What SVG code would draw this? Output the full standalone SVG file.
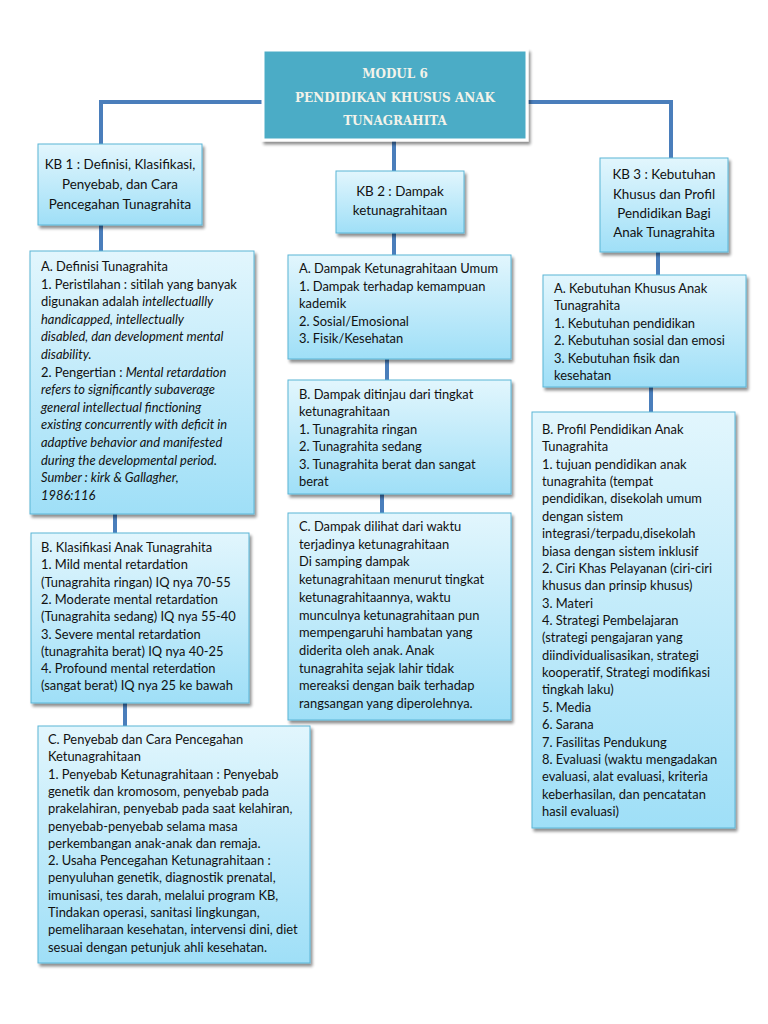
<svg xmlns="http://www.w3.org/2000/svg" width="768" height="1024" viewBox="0 0 768 1024">
<defs>
<linearGradient id="g" x1="0" y1="0" x2="0" y2="1">
<stop offset="0" stop-color="#e2f6fd"/>
<stop offset="1" stop-color="#9fdff7"/>
</linearGradient>
<filter id="sh" x="-10%" y="-10%" width="125%" height="125%">
<feGaussianBlur in="SourceAlpha" stdDeviation="1.5"/>
<feOffset dx="1.5" dy="2.5" result="o"/>
<feComponentTransfer><feFuncA type="linear" slope="0.45"/></feComponentTransfer>
<feMerge><feMergeNode/><feMergeNode in="SourceGraphic"/></feMerge>
</filter>
</defs>
<style>
.box{fill:url(#g);stroke:#5bb5d6;stroke-width:1;filter:url(#sh)}
.title{fill:#4bacc6;stroke:#ffffff;stroke-width:3;filter:url(#sh)}
.tt{font-family:"DejaVu Serif",serif;font-weight:bold;font-size:12px;fill:#f3f3ea;text-anchor:middle}
.t{font-family:Lato,"Liberation Sans",sans-serif;font-size:12.9px;fill:#111111}
.k{font-size:13.4px}
.c{text-anchor:middle}
.i{font-style:italic}
.ln{fill:none;stroke:#4a7ebb;stroke-width:4}
</style>
<rect width="768" height="1024" fill="#ffffff"/>
<g id="connectors">
<polyline class="ln" points="263,102 101,102 101,145"/>
<polyline class="ln" points="527,102 671,102 671,158"/>
<line class="ln" x1="394" y1="140" x2="394" y2="171"/>
<line class="ln" x1="101" y1="225" x2="101" y2="251"/>
<line class="ln" x1="115" y1="514" x2="115" y2="533"/>
<line class="ln" x1="125" y1="703" x2="125" y2="726"/>
<line class="ln" x1="394" y1="233" x2="394" y2="255"/>
<line class="ln" x1="387" y1="359" x2="387" y2="380"/>
<line class="ln" x1="382" y1="494" x2="382" y2="513"/>
<line class="ln" x1="658" y1="252" x2="658" y2="275"/>
<line class="ln" x1="651" y1="387" x2="651" y2="412"/>
</g>
<g id="title">
<rect class="title" x="263" y="50" width="264" height="90"/>
<text class="tt"><tspan x="395" y="78">MODUL 6</tspan><tspan x="395" y="102">PENDIDIKAN KHUSUS ANAK</tspan><tspan x="395" y="125">TUNAGRAHITA</tspan></text>
</g>
<g id="kb1">
<rect class="box" x="38" y="144" width="164" height="81"/>
<text class="t k c"><tspan x="120" y="169">KB 1 : Definisi, Klasifikasi,</tspan><tspan x="120" y="189">Penyebab, dan Cara</tspan><tspan x="120" y="209">Pencegahan Tunagrahita</tspan></text>
</g>
<g id="kb2">
<rect class="box" x="336" y="171" width="128" height="62"/>
<text class="t k c"><tspan x="400" y="196">KB 2 : Dampak</tspan><tspan x="400" y="215">ketunagrahitaan</tspan></text>
</g>
<g id="kb3">
<rect class="box" x="600" y="158" width="128" height="94"/>
<text class="t k c"><tspan x="664" y="179">KB 3 : Kebutuhan</tspan><tspan x="664" y="199">Khusus dan Profil</tspan><tspan x="664" y="218">Pendidikan Bagi</tspan><tspan x="664" y="237">Anak Tunagrahita</tspan></text>
</g>
<g id="kb1a">
<rect class="box" x="30" y="251" width="224" height="263"/>
<text class="t">
<tspan x="41" y="271">A. Definisi Tunagrahita</tspan>
<tspan x="41" y="288.6">1. Peristilahan : sitilah yang banyak</tspan>
<tspan x="41" y="306.2">digunakan adalah <tspan class="i">intellectuallly</tspan></tspan>
<tspan x="41" y="323.8" class="i">handicapped, intellectually</tspan>
<tspan x="41" y="341.4" class="i">disabled, dan development mental</tspan>
<tspan x="41" y="359" class="i">disability.</tspan>
<tspan x="41" y="376.6">2. Pengertian : <tspan class="i"> Mental retardation</tspan></tspan>
<tspan x="41" y="394.2" class="i">refers to significantly subaverage</tspan>
<tspan x="41" y="411.8" class="i">general intellectual finctioning</tspan>
<tspan x="41" y="429.4" class="i">existing concurrently with deficit in</tspan>
<tspan x="41" y="447" class="i">adaptive behavior and manifested</tspan>
<tspan x="41" y="464.6" class="i">during the developmental period.</tspan>
<tspan x="41" y="482.2" class="i">Sumber : kirk &amp; Gallagher,</tspan>
<tspan x="41" y="499.8" class="i">1986:116</tspan>
</text>
</g>
<g id="kb1b">
<rect class="box" x="31" y="533" width="218" height="170"/>
<text class="t">
<tspan x="41" y="552">B. Klasifikasi Anak Tunagrahita</tspan>
<tspan x="41" y="569.3">1. Mild mental retardation</tspan>
<tspan x="41" y="586.6">(Tunagrahita ringan) IQ nya 70-55</tspan>
<tspan x="41" y="603.9">2. Moderate mental retardation</tspan>
<tspan x="41" y="621.2">(Tunagrahita sedang) IQ nya 55-40</tspan>
<tspan x="41" y="638.5">3. Severe mental retardation</tspan>
<tspan x="41" y="655.8">(tunagrahita berat) IQ nya 40-25</tspan>
<tspan x="41" y="673.1">4. Profound mental reterdation</tspan>
<tspan x="41" y="690.4">(sangat berat) IQ nya 25 ke bawah</tspan>
</text>
</g>
<g id="kb1c">
<rect class="box" x="38" y="726" width="272" height="237"/>
<text class="t">
<tspan x="48" y="744">C. Penyebab dan Cara Pencegahan</tspan>
<tspan x="48" y="761.3">Ketunagrahitaan</tspan>
<tspan x="48" y="778.6">1. Penyebab Ketunagrahitaan : Penyebab</tspan>
<tspan x="48" y="795.9">genetik dan kromosom, penyebab pada</tspan>
<tspan x="48" y="813.2">prakelahiran, penyebab pada saat kelahiran,</tspan>
<tspan x="48" y="830.5">penyebab-penyebab selama masa</tspan>
<tspan x="48" y="847.8">perkembangan anak-anak dan remaja.</tspan>
<tspan x="48" y="865.1">2. Usaha Pencegahan Ketunagrahitaan :</tspan>
<tspan x="48" y="882.4">penyuluhan genetik, diagnostik prenatal,</tspan>
<tspan x="48" y="899.7">imunisasi, tes darah, melalui program KB,</tspan>
<tspan x="48" y="917">Tindakan operasi, sanitasi lingkungan,</tspan>
<tspan x="48" y="934.3">pemeliharaan kesehatan, intervensi dini, diet</tspan>
<tspan x="48" y="951.6">sesuai dengan petunjuk ahli kesehatan.</tspan>
</text>
</g>
<g id="kb2a">
<rect class="box" x="288" y="255" width="223" height="104"/>
<text class="t">
<tspan x="299" y="273">A. Dampak Ketunagrahitaan Umum</tspan>
<tspan x="299" y="290.5">1. Dampak terhadap kemampuan</tspan>
<tspan x="299" y="308">kademik</tspan>
<tspan x="299" y="325.5">2. Sosial/Emosional</tspan>
<tspan x="299" y="343">3. Fisik/Kesehatan</tspan>
</text>
</g>
<g id="kb2b">
<rect class="box" x="288" y="380" width="223" height="114"/>
<text class="t">
<tspan x="299" y="399">B. Dampak ditinjau dari tingkat</tspan>
<tspan x="299" y="416.4">ketunagrahitaan</tspan>
<tspan x="299" y="433.8">1. Tunagrahita ringan</tspan>
<tspan x="299" y="451.2">2. Tunagrahita sedang</tspan>
<tspan x="299" y="468.6">3. Tunagrahita berat dan sangat</tspan>
<tspan x="299" y="486">berat</tspan>
</text>
</g>
<g id="kb2c">
<rect class="box" x="288" y="513" width="223" height="207"/>
<text class="t">
<tspan x="299" y="531">C. Dampak dilihat dari waktu</tspan>
<tspan x="299" y="548.7">terjadinya ketunagrahitaan</tspan>
<tspan x="299" y="566.4">Di samping dampak</tspan>
<tspan x="299" y="584.1">ketunagrahitaan menurut tingkat</tspan>
<tspan x="299" y="601.8">ketunagrahitaannya, waktu</tspan>
<tspan x="299" y="619.5">munculnya ketunagrahitaan pun</tspan>
<tspan x="299" y="637.2">mempengaruhi hambatan yang</tspan>
<tspan x="299" y="654.9">diderita oleh anak. Anak</tspan>
<tspan x="299" y="672.6">tunagrahita sejak lahir tidak</tspan>
<tspan x="299" y="690.3">mereaksi dengan baik terhadap</tspan>
<tspan x="299" y="708">rangsangan yang diperolehnya.</tspan>
</text>
</g>
<g id="kb3a">
<rect class="box" x="543" y="275" width="203" height="112"/>
<text class="t">
<tspan x="554" y="293">A. Kebutuhan Khusus Anak</tspan>
<tspan x="554" y="310.4">Tunagrahita</tspan>
<tspan x="554" y="327.8">1. Kebutuhan pendidikan</tspan>
<tspan x="554" y="345.2">2. Kebutuhan sosial dan emosi</tspan>
<tspan x="554" y="362.6">3. Kebutuhan fisik dan</tspan>
<tspan x="554" y="380">kesehatan</tspan>
</text>
</g>
<g id="kb3b">
<rect class="box" x="532" y="412" width="203" height="416"/>
<text class="t">
<tspan x="542" y="434">B. Profil Pendidikan Anak</tspan>
<tspan x="542" y="451.4">Tunagrahita</tspan>
<tspan x="542" y="468.7">1. tujuan pendidikan anak</tspan>
<tspan x="542" y="486.1">tunagrahita (tempat</tspan>
<tspan x="542" y="503.4">pendidikan, disekolah umum</tspan>
<tspan x="542" y="520.8">dengan sistem</tspan>
<tspan x="542" y="538.2">integrasi/terpadu,disekolah</tspan>
<tspan x="542" y="555.5">biasa dengan sistem inklusif</tspan>
<tspan x="542" y="572.9">2. Ciri Khas Pelayanan (ciri-ciri</tspan>
<tspan x="542" y="590.2">khusus dan prinsip khusus)</tspan>
<tspan x="542" y="607.6">3. Materi</tspan>
<tspan x="542" y="625">4. Strategi Pembelajaran</tspan>
<tspan x="542" y="642.3">(strategi pengajaran yang</tspan>
<tspan x="542" y="659.7">diindividualisasikan, strategi</tspan>
<tspan x="542" y="677">kooperatif, Strategi modifikasi</tspan>
<tspan x="542" y="694.4">tingkah laku)</tspan>
<tspan x="542" y="711.8">5. Media</tspan>
<tspan x="542" y="729.1">6. Sarana</tspan>
<tspan x="542" y="746.5">7. Fasilitas Pendukung</tspan>
<tspan x="542" y="763.8">8. Evaluasi (waktu mengadakan</tspan>
<tspan x="542" y="781.2">evaluasi, alat evaluasi, kriteria</tspan>
<tspan x="542" y="798.6">keberhasilan, dan pencatatan</tspan>
<tspan x="542" y="815.9">hasil evaluasi)</tspan>
</text>
</g>
</svg>
